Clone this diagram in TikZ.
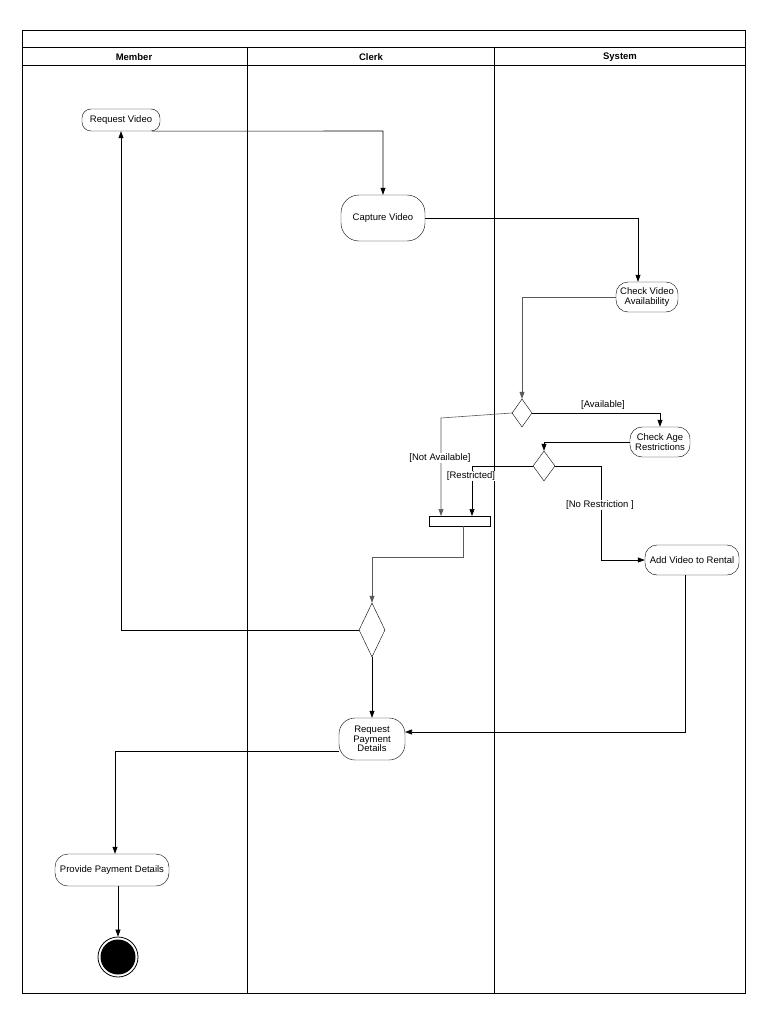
\documentclass[tikz,border=0pt]{standalone}
\usepackage{fontspec}
\setmainfont{Liberation Sans}
\usetikzlibrary{shapes.geometric,arrows.meta}
\begin{document}
\begin{tikzpicture}[x=1pt,y=-1pt,
  act/.style={draw,rounded corners=9pt,align=center,font=\fontsize{9.5}{9.5}\selectfont,inner sep=1pt},
  dia/.style={draw,diamond,inner sep=0pt},
  lbl/.style={font=\fontsize{9.5}{10}\selectfont,fill=white,inner sep=0.5pt},
  hd/.style={font=\bfseries\fontsize{9.5}{10}\selectfont},
  fl/.style={-{Triangle[length=7pt,width=5pt]},line width=0.6pt},
  gl/.style={fl,draw=gray!70!black}]
\useasboundingbox (0,0) rectangle (768,1024);
\draw[line width=0.8pt] (22,30) rectangle (745,993);
\draw (22,47) -- (745,47) (22,65) -- (745,65);
\draw (247,47) -- (247,993) (494,47) -- (494,993);
\node[hd] (h1) at (134,57) {Member};
\node[hd] (h2) at (371,57) {Clerk};
\node[hd] (h3) at (620,57) {System};
\node[act,minimum width=78pt,minimum height=22pt] (rv) at (121,120) {Request Video};
\node[act,minimum width=84pt,minimum height=46pt,rounded corners=18pt] (cv) at (383,218) {Capture Video};
\node[act,minimum width=62pt,minimum height=30pt,rounded corners=12pt] (cva) at (647,297) {Check Video\\Availability};
\node[dia,minimum width=20pt,minimum height=28pt] (d1) at (522,413) {};
\node[act,minimum width=60pt,minimum height=30pt,rounded corners=12pt] (car) at (660,442) {Check Age\\Restrictions};
\node[dia,minimum width=22pt,minimum height=30pt] (d2) at (544,466) {};
\node[draw,minimum width=61pt,minimum height=10pt,inner sep=0pt] (fk) at (459.5,521) {};
\node[act,minimum width=94pt,minimum height=30pt,rounded corners=12pt] (av) at (692,560) {Add Video to Rental};
\node[dia,minimum width=26pt,minimum height=54pt] (d3) at (372,630) {};
\node[act,minimum width=66pt,minimum height=42pt,rounded corners=16pt] (rp) at (372,739) {Request\\Payment\\Details};
\node[act,minimum width=114pt,minimum height=32pt,rounded corners=13pt] (pp) at (112,870) {Provide Payment Details};
\node[circle,draw,line width=0.8pt,minimum size=40pt,inner sep=0pt] (fin) at (118,957) {};
\node[circle,fill=black,minimum size=35pt,inner sep=0pt] (fin2) at (fin) {};
\coordinate (c1) at (383,131);
\coordinate (c2) at (685,732);
\coordinate (c3) at (339,751);
\draw[fl] (rv.south east) ++(-8,0) -- (c1) -- (cv.north);
\draw[fl] (cv.east) -| (cva.north -| 638,0) ;
\draw[gl] (cva.west) -| (d1.north);
\draw[fl] (d1.east) -| (car.north);
\node[lbl] (la) at (603,405) {[Available]};
\draw[gl] (d1.west) -- (441,418) -- (441,516);
\node[lbl] (lna) at (440,458) {[Not Available]};
\draw[fl] (car.west) -| (d2.north);
\draw[fl] (d2.west) -| (472,516);
\node[lbl] (lr) at (471,476) {[Restricted]};
\draw[fl] (d2.east) -- (601,466) |- (av.west);
\node[lbl] (lnr) at (600,505) {[No Restriction ]};
\draw[gl] (463,526) |- (372,557) -- (d3.north);
\draw[fl] (d3.west) -| (rv.south);
\draw[fl] (d3.south) -- (rp.north);
\draw[fl] (685,575) -- (c2) -- (405,732);
\draw[fl] (c3) -| (pp.north -| 115,0);
\draw[fl] (pp.south -| 118,0) -- (fin.north);
\end{tikzpicture}
\end{document}
